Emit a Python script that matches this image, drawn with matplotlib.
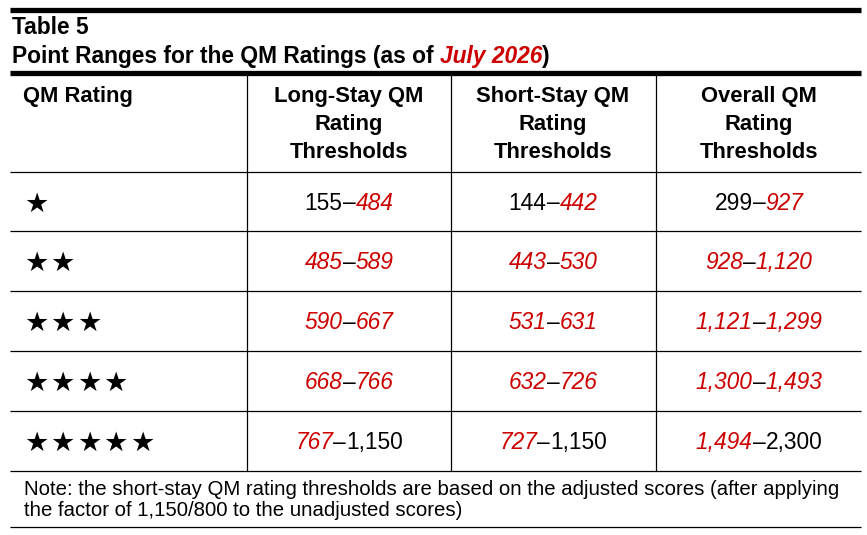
import matplotlib
matplotlib.use("Agg")
import matplotlib.pyplot as plt

# table data
table_title = "Table 5"
title_pre = "Point Ranges for the QM Ratings (as of "
title_date = "July 2026"
title_post = ")"
headers = ["QM Rating",
           "Long-Stay QM\nRating\nThresholds",
           "Short-Stay QM\nRating\nThresholds",
           "Overall QM\nRating\nThresholds"]
stars = [1, 2, 3, 4, 5]
long_low = [155, 485, 590, 668, 767]
long_high = [484, 589, 667, 766, 1150]
short_low = [144, 443, 531, 632, 727]
short_high = [442, 530, 631, 726, 1150]
overall_low = [299, 928, 1121, 1300, 1494]
overall_high = [927, 1120, 1299, 1493, 2300]
# which end of each range is new (shown red italic)
low_new = [False, True, True, True, True]
high_new = [True, True, True, True, False]
note = ("Note: the short-stay QM rating thresholds are based on the adjusted scores (after applying\n"
        "the factor of 1,150/800 to the unadjusted scores)")

RED = "#CC0000"
FONT = "Liberation Sans"

fig = plt.figure(figsize=(8.67, 5.35), dpi=100)
ax = fig.add_axes([0, 0, 1, 1])
ax.set_xlim(0, 867)
ax.set_ylim(535, 0)
ax.axis("off")
renderer = fig.canvas.get_renderer()


def rich(x, y, pieces, size, ha="center"):
    """pieces: list of (text, color, style, weight); drawn on one baseline"""
    objs = []
    widths = []
    for txt, col, style, weight in pieces:
        t = ax.text(0, y, txt, color=col, fontstyle=style, fontweight=weight,
                    fontsize=size, family=FONT, va="baseline", ha="left")
        objs.append(t)
        widths.append(t.get_window_extent(renderer).width)
    total = sum(widths)
    start = x - total / 2 if ha == "center" else x
    for t, w in zip(objs, widths):
        t.set_x(start)
        start += w


def fmt(v):
    return "{:,}".format(v)


# rules
left, right = 10, 861
ax.hlines([10, 73], left, right, color="black", lw=3.8)
row_edges = [172, 231, 291, 351, 411, 471]
ax.hlines(row_edges + [527], left, right, color="black", lw=0.9)
col_edges = [247, 451, 656]
ax.vlines(col_edges, 75, 471, color="black", lw=0.9)

# titles
ax.text(12, 34, table_title, fontsize=16.4, fontweight="bold", family=FONT,
        va="baseline", ha="left")
rich(12, 63, [(title_pre, "black", "normal", "bold"),
              (title_date, RED, "italic", "bold"),
              (title_post, "black", "normal", "bold")], 16.4, ha="left")

# header
col_centers = [23, 349, 553, 759]
for i, h in enumerate(headers):
    for j, line in enumerate(h.split("\n")):
        ax.text(col_centers[i], 102 + j * 28, line, fontsize=15.8,
                fontweight="bold", family=FONT, va="baseline",
                ha="left" if i == 0 else "center")

# rows
row_centers = [(a + b) / 2 for a, b in zip(row_edges[:-1], row_edges[1:])]
for r, n in enumerate(stars):
    yc = row_centers[r]
    for k in range(n):
        ax.text(24 + k * 26.5, yc + 3, "\u2605", fontsize=19.5, family="DejaVu Sans",
                va="center", ha="left")
    for ci, (lo, hi) in enumerate([(long_low, long_high),
                                   (short_low, short_high),
                                   (overall_low, overall_high)]):
        pieces = [
            (fmt(lo[r]), RED if low_new[r] else "black",
             "italic" if low_new[r] else "normal", "normal"),
            ("\u2013", "black", "normal", "normal"),
            (fmt(hi[r]), RED if high_new[r] else "black",
             "italic" if high_new[r] else "normal", "normal"),
        ]
        rich(col_centers[ci + 1], yc + 8, pieces, 16.4)

# note
for j, line in enumerate(note.split("\n")):
    ax.text(24, 495 + j * 21, line, fontsize=14.7, family=FONT,
            va="baseline", ha="left")

fig.savefig("out.png", dpi=100)
